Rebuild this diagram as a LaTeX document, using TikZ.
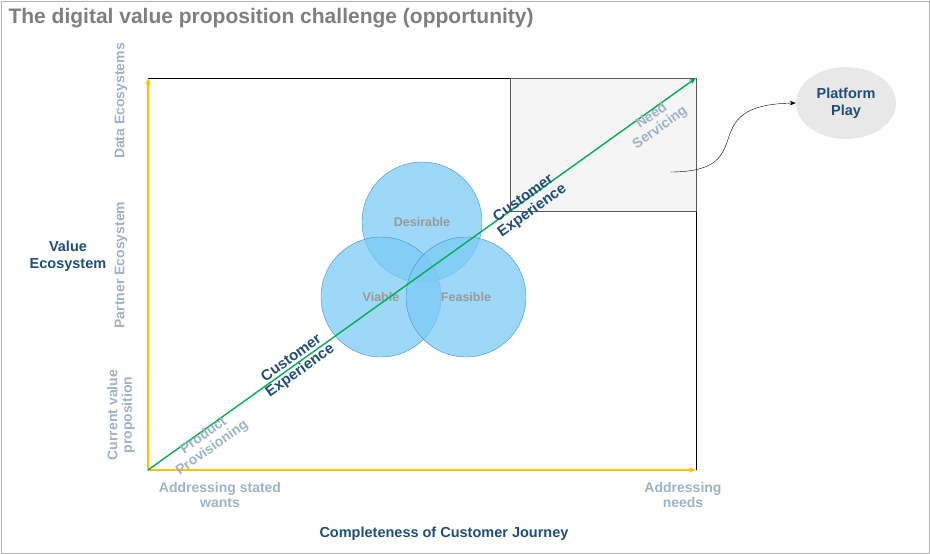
\documentclass[tikz,border=0pt]{standalone}
\usepackage{fontspec}
\setmainfont{Liberation Sans}
\usetikzlibrary{arrows.meta,shapes.geometric}
\definecolor{ttl}{HTML}{7F7F7F}
\definecolor{axis}{HTML}{FFC000}
\definecolor{grn}{HTML}{00B050}
\definecolor{dblue}{HTML}{1F4E79}
\definecolor{lbl}{HTML}{9DB3C8}
\definecolor{circ}{HTML}{7CCBF5}
\definecolor{circd}{HTML}{3C8FD0}
\begin{document}
\begin{tikzpicture}[x=1pt,y=-1pt,
  ax/.style={axis,line width=1.4pt,-{Stealth[length=7pt]}},
  cir/.style={circle,minimum size=120pt,fill=circ,fill opacity=0.75,draw=circd,text opacity=1,text=gray!80,font=\bfseries\fontsize{12.5}{14}\selectfont},
  ce/.style={rotate=35.6,align=center,text=dblue,font=\bfseries\fontsize{15}{15}\selectfont},
  gl/.style={align=center,text=lbl,font=\bfseries\fontsize{14}{14.5}\selectfont},
  bl/.style={align=center,text=dblue,font=\bfseries\fontsize{14.5}{17}\selectfont}]
\useasboundingbox (0,0) rectangle (930,554);
\draw[gray!60] (1,1) rectangle (929,553);
\node[anchor=west,text=ttl,font=\bfseries\fontsize{21}{22}\selectfont] (title) at (5,18) {The digital value proposition challenge (opportunity)};
\coordinate (o) at (148,470);
\coordinate (yt) at (148,78);
\coordinate (xt) at (696,470);
\coordinate (tr) at (696,78);
\draw[black] (yt) -- (tr) -- (xt);
\node[draw=gray!70!black,fill=gray!8,minimum width=186pt,minimum height=133pt,anchor=north east,inner sep=0] (box) at (tr) {};
\draw[ax] (o) -- (yt);
\draw[ax] (o) -- (xt);
\node[cir] (des) at (422,222) {Desirable};
\node[cir] (via) at (381,297) {Viable};
\node[cir] (fea) at (466,297) {Feasible};
\draw[grn,line width=1.4pt,-{Stealth[length=7pt]}] (o) -- (tr);
\node[ce] (ce1) at (296,365) {Customer\\Experience};
\node[ce] (ce2) at (528,205) {Customer\\Experience};
\node[gl,rotate=35.6] (pp) at (208,442) {Product\\Provisioning};
\node[gl,rotate=35.6] (ns) at (656,122) {Need\\Servicing};
\node[gl,rotate=90] (cv) at (121,415) {Current value\\proposition};
\node[gl,rotate=90] (pe) at (121,265) {Partner Ecosystem};
\node[gl,rotate=90] (de) at (121,101) {Data Ecosystems};
\node[gl] (aw) at (220,495) {Addressing stated\\wants};
\node[gl] (an) at (683,495) {Addressing\\needs};
\node[bl] (ve) at (68,256) {Value\\Ecosystem};
\node[bl] (cj) at (444,534) {Completeness of Customer Journey};
\node[ellipse,fill=gray!18,minimum width=100pt,minimum height=72pt,bl,text=dblue] (plat) at (846,103) {Platform\\Play};
\coordinate (cs) at (670,172);
\draw[-{Stealth[length=6pt]}] (cs) .. controls (765,172) and (690,105) .. (plat.west);
\end{tikzpicture}
\end{document}
